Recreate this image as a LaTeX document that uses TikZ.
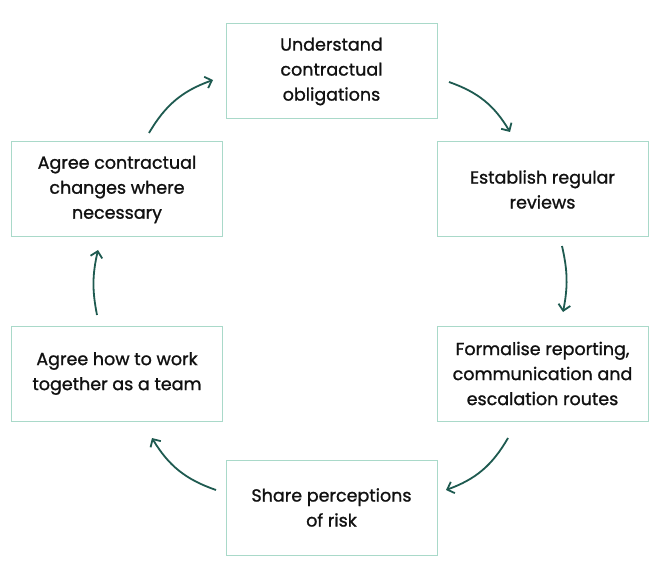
\documentclass[tikz,border=0pt]{standalone}
\usepackage{fontspec}
\setmainfont{Poppins}
\newfontfamily\stagefont[FakeBold=1.2]{Poppins}
\usetikzlibrary{arrows.meta}
\definecolor{boxline}{HTML}{A9D9C9}
\definecolor{arrowcol}{HTML}{1E5A50}
\definecolor{textcol}{HTML}{111111}

\begin{document}
\begin{tikzpicture}[x=1pt,y=-1pt,
    stage/.style={draw=boxline, line width=1pt, rectangle, minimum width=211pt, minimum height=95pt,
                  align=center, text=textcol, font=\stagefont\fontsize{17.5}{25}\selectfont},
    flow/.style={draw=arrowcol, line width=1.8pt, -{Straight Barb[length=6pt,width=12pt]}}]
  \useasboundingbox (0,0) rectangle (659,580);

  \node[stage] (understand) at (331.5,71.5) {Understand\\contractual\\obligations};
  \node[stage] (reviews)    at (542.5,189.5) {Establish regular\\reviews};
  \node[stage] (routes)     at (542.5,373.5) {Formalise reporting,\\communication and\\escalation routes};
  \node[stage] (risk)       at (331.5,507.5) {Share perceptions\\of risk};
  \node[stage] (team)       at (117,373.5) {Agree how to work\\together as a team};
  \node[stage] (changes)    at (117,189.5) {Agree contractual\\changes where\\necessary};

  % arrow ends
  \coordinate (aS) at (449,82);  \coordinate (aE) at (510,132);
  \coordinate (bS) at (562,246); \coordinate (bE) at (563,312);
  \coordinate (cS) at (508,438); \coordinate (cE) at (446,490);
  \coordinate (dS) at (216,490); \coordinate (dE) at (152,438);
  \coordinate (eS) at (97,315);  \coordinate (eE) at (98,250);
  \coordinate (fS) at (149,133); \coordinate (fE) at (213,80);

  \draw[flow] (aS) to[bend left=20] (aE);
  \draw[flow] (bS) to[bend left=12] (bE);
  \draw[flow] (cS) to[bend left=20] (cE);
  \draw[flow] (dS) to[bend left=20] (dE);
  \draw[flow] (eS) to[bend left=12] (eE);
  \draw[flow] (fS) to[bend left=20] (fE);
\end{tikzpicture}
\end{document}
